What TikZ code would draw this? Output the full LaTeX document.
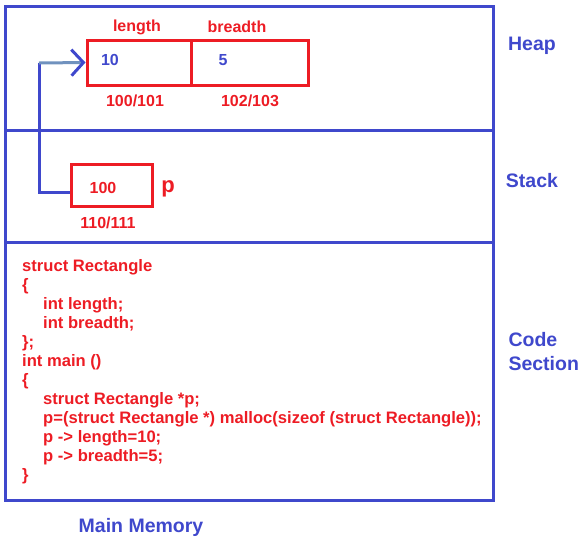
\documentclass[tikz,border=0pt]{standalone}
\usepackage{fontspec}
\setmainfont{Liberation Sans}
\usetikzlibrary{arrows.meta}
\definecolor{memblue}{RGB}{63,72,204}
\definecolor{ptrblue}{RGB}{112,146,190}
\definecolor{memred}{RGB}{237,28,36}
\tikzset{
  section/.style={draw=memblue, line width=3pt},
  cell/.style={draw=memred, line width=3pt, inner sep=0pt},
  redtext/.style={text=memred, font=\bfseries\fontsize{16}{18}\selectfont},
  bluelabel/.style={text=memblue, font=\bfseries\fontsize{19.5}{24}\selectfont, align=left},
}
\begin{document}
\begin{tikzpicture}[x=1pt, y=-1pt]
    \useasboundingbox (0,0) rectangle (586,544);
    % memory sections
    \draw[section] (5,6) rectangle (493,500);
    \draw[section] (5,130) -- (493,130);
    \draw[section] (5,242) -- (493,242);
    \node[bluelabel] (heap) at (532,46) {Heap};
    \node[bluelabel] (stack) at (532,181) {Stack};
    \node[bluelabel, anchor=west] (code) at (505,352) {Code\\Section};
    \node[bluelabel] (mainmem) at (141,527) {Main Memory};
    % heap object
    \node[cell, minimum width=104pt, minimum height=45pt] (lenbox) at (139,62.5) {};
    \node[cell, minimum width=117pt, minimum height=45pt] (brebox) at (249.5,62.5) {};
    \node[redtext] (lenname) at (137,27) {length};
    \node[redtext] (brename) at (237,27) {breadth};
    \node[redtext, text=memblue] (lenval) at (110,60) {10};
    \node[redtext, text=memblue] (breval) at (223,60) {5};
    \node[redtext] (lenaddr) at (135,101) {100/101};
    \node[redtext] (breaddr) at (250,101) {102/103};
    % pointer on stack
    \node[cell, minimum width=81pt, minimum height=42pt] (pbox) at (111.5,185) {};
    \node[redtext] (pval) at (103,188) {100};
    \node[redtext, font=\bfseries\fontsize{22}{24}\selectfont] (pname) at (168,189) {p};
    \node[redtext] (paddr) at (108,223) {110/111};
    \coordinate (bend) at (39,63);
    \draw[memblue, line width=3pt] ([yshift=-7pt]pbox.west) -| (bend);
    \draw[ptrblue, line width=3pt, -{Straight Barb[length=12pt, width=26pt, line width=3pt, color=memblue]}] (bend) -- (lenbox.west);
    % code section
    \node[redtext, font=\bfseries\fontsize{16.6}{19}\selectfont, align=left, anchor=north west, inner sep=0pt] (src) at (22,259) {%
      struct Rectangle\\
      \{\\
      \hspace*{21pt}int length;\\
      \hspace*{21pt}int breadth;\\
      \};\\
      int main ()\\
      \{\\
      \hspace*{21pt}struct Rectangle *p;\\
      \hspace*{21pt}p=(struct Rectangle *) malloc(sizeof (struct Rectangle));\\
      \hspace*{21pt}p -> length=10;\\
      \hspace*{21pt}p -> breadth=5;\\
      \}};
\end{tikzpicture}
\end{document}
